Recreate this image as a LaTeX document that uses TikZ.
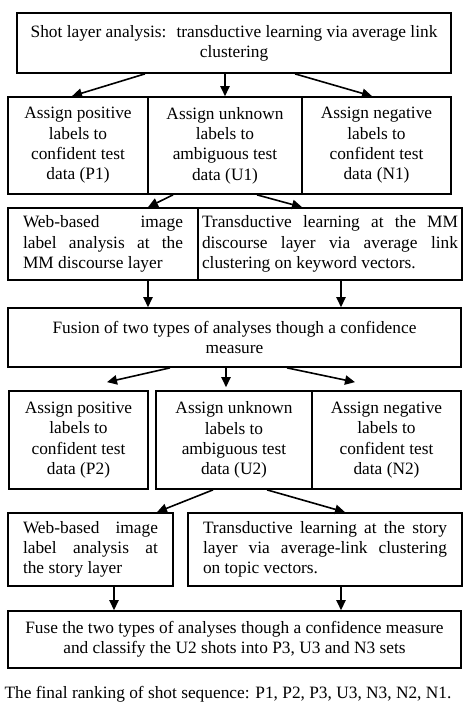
\documentclass[tikz,border=0pt]{standalone}
\usepackage{fontspec}
\setmainfont{Liberation Serif}
\usetikzlibrary{arrows.meta,calc}
\begin{document}
\begin{tikzpicture}[x=0.75pt, y=-0.75pt, >={Triangle[length=7.5pt,width=7pt]},
  box/.style={draw, line width=1.3pt, inner sep=0pt, align=center, font=\fontsize{13}{15.2}\selectfont},
  jbox/.style={box, align=justify},
  arr/.style={->, line width=1.2pt}]
  \useasboundingbox (0,0) rectangle (474,713);

  \node (shot) [box, minimum width=325.5pt, minimum height=45pt] at (234,43) {Shot layer analysis:~ transductive learning via average link\\clustering};
  \node (p1) [box, minimum width=105pt, minimum height=72.75pt] at (78,145.5) {Assign positive\\labels to\\confident test\\data (P1)};
  \node (u1) [box, minimum width=115.5pt, minimum height=72.75pt] at (225,145.5) {Assign unknown\\labels to\\ambiguous test\\data (U1)};
  \node (n1) [box, minimum width=111.75pt, minimum height=72.75pt] at (376.5,145.5) {Assign negative\\labels to\\confident test\\data (N1)};
  \node (web1) [jbox, text width=120pt, minimum width=142.5pt, minimum height=54pt] at (103,244) {Web-based image\linebreak label analysis at the\linebreak MM discourse layer};
  \node (tr1) [jbox, text width=192pt, minimum width=198pt, minimum height=54pt] at (330,244) {Transductive learning at the MM\linebreak discourse layer via average link\linebreak clustering on keyword vectors.};
  \node (fus1) [box, minimum width=339.75pt, minimum height=44.25pt] at (234.5,337.5) {Fusion of two types of analyses though a confidence\\measure};
  \node (p2) [box, minimum width=104.25pt, minimum height=73.5pt] at (78.5,440) {Assign positive\\labels to\\confident test\\data (P2)};
  \node (u2) [box, minimum width=117pt, minimum height=73.5pt] at (234,440) {Assign unknown\\labels to\\ambiguous test\\data (U2)};
  \node (n2) [box, minimum width=111.75pt, minimum height=73.5pt] at (386.5,440) {Assign negative\\labels to\\confident test\\data (N2)};
  \node (web2) [jbox, text width=101.25pt, minimum width=123.75pt, minimum height=54.75pt] at (90.5,549.5) {Web-based image\linebreak label analysis at\linebreak the story layer};
  \node (tr2) [jbox, text width=183pt, minimum width=205.5pt, minimum height=54.75pt] at (325,549.5) {Transductive learning at the story\linebreak layer via average-link clustering\linebreak on topic vectors.};
  \node (fus2) [box, minimum width=339.75pt, minimum height=42.75pt] at (234.5,639.5) {Fuse the two types of analyses though a confidence measure\\and classify the U2 shots into P3, U3 and N3 sets};
  \node (rank) [font=\fontsize{13}{15.2}\selectfont, inner sep=0pt] at (228,694) {The final ranking of shot sequence: P1, P2, P3, U3, N3, N2, N1.};

  \draw [arr] ($(shot.south)+(-89,0)$) -- ($(p1.north)+(-6,0)$);
  \draw [arr] (shot.south -| u1.north) -- (u1.north);
  \draw [arr] ($(shot.south)+(61,0)$) -- ($(n1.north)+(-4.5,0)$);
  \draw [arr] ($(u1.south)+(-52,0)$) -- ($(web1.north)+(45,0)$);
  \draw [arr] ($(u1.south)+(32,0)$) -- ($(tr1.north)+(-28,0)$);
  \draw [arr] ($(web1.south)+(45,0)$) -- ($(fus1.north)+(-86.5,0)$);
  \draw [arr] ($(tr1.south)+(11,0)$) -- ($(fus1.north)+(106.5,0)$);
  \draw [arr] ($(fus1.south)+(-64.5,0)$) -- ($(p2.north)+(28.5,-8)$);
  \draw [arr] ($(fus1.south)+(-8.5,0)$) -- ($(u2.north)+(-8,-3)$);
  \draw [arr] ($(fus1.south)+(52.5,0)$) -- ($(n2.north)+(-31.5,-8)$);
  \draw [arr] ($(u2.south)+(-21,0)$) -- ($(web2.north)+(66.5,0)$);
  \draw [arr] ($(u2.south)+(33,0)$) -- ($(tr2.north)+(20,0)$);
  \draw [arr] ($(web2.south)+(23.5,0)$) -- ($(fus2.north)+(-120.5,0)$);
  \draw [arr] ($(tr2.south)+(16,0)$) -- ($(fus2.north)+(106.5,0)$);
\end{tikzpicture}
\end{document}
